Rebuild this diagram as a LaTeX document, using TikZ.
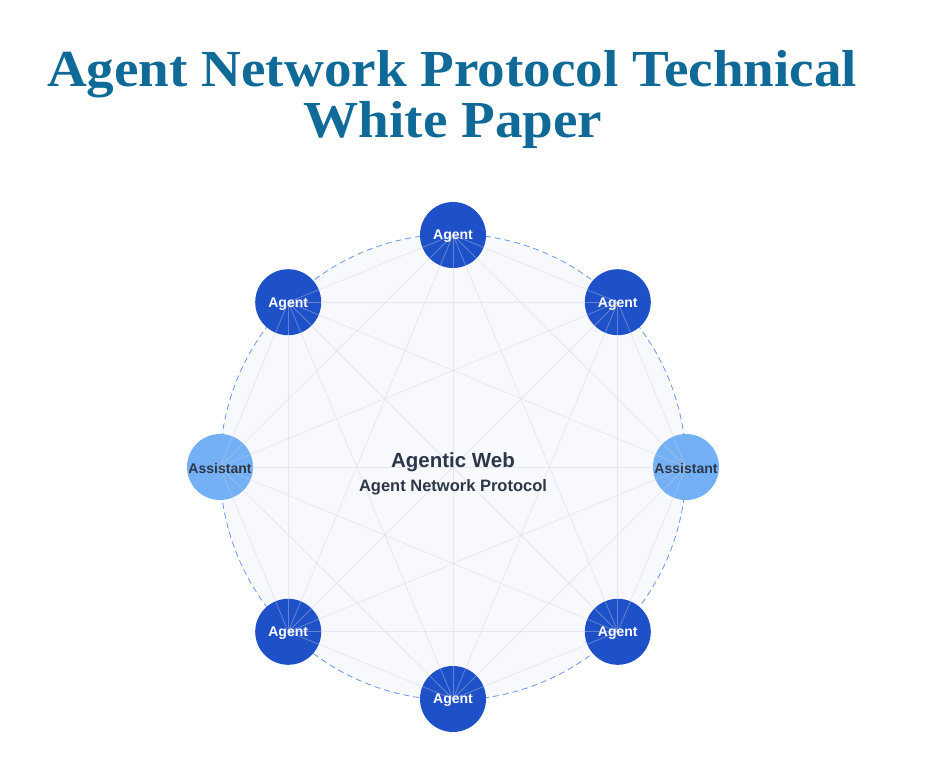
\documentclass[tikz,border=0pt]{standalone}
\usepackage{fontspec}
\setmainfont{Liberation Serif}
\setsansfont{Liberation Sans}
\usepackage{xcolor}
\usetikzlibrary{arrows.meta, positioning}
\usetikzlibrary{calc}

\definecolor{titleblue}{RGB}{15,106,152}
\definecolor{agentblue}{RGB}{30,80,200}
\definecolor{assistblue}{RGB}{116,176,246}
\definecolor{ringblue}{RGB}{104,152,236}
\definecolor{discfill}{RGB}{247,249,253}
\definecolor{edgegray}{RGB}{205,208,218}
\definecolor{darktext}{RGB}{45,55,72}

\tikzset{
  agent/.style={circle, fill=agentblue, minimum size=66pt, inner sep=0pt},
  assistant/.style={circle, fill=assistblue, minimum size=66pt, inner sep=0pt},
  edge/.style={draw=edgegray, line width=0.8pt, draw opacity=0.4},
  lbl/.style={font=\sffamily\bfseries\fontsize{14}{16}\selectfont, yshift=-1.5pt},
  title/.style={font=\bfseries\fontsize{52}{56}\selectfont, text=titleblue, anchor=base}
}

\begin{document}
\begin{tikzpicture}[x=1pt, y=-1pt]
\useasboundingbox (0,0) rectangle (931,760);
% title
\node[title] (t1) at (452,86) {\scalebox{1.06}[1]{Agent Network Protocol Technical}};
\node[title] (t2) at (453,137) {\scalebox{1.06}[1]{White Paper}};
% ring
\draw[ringblue, fill=discfill, line width=0.8pt, dash pattern=on 6pt off 4pt] (453,467) circle (233);
% nodes
\node[agent] (a) at (453,235) {};
\node[agent] (b) at (617.8,302.2) {};
\node[assistant] (c) at (686,467) {};
\node[agent] (d) at (617.8,631.8) {};
\node[agent] (e) at (453,699) {};
\node[agent] (f) at (288.2,631.8) {};
\node[assistant] (g) at (220,467) {};
\node[agent] (h) at (288.2,302.2) {};
% links
\draw[edge] (a.center) -- (b.center) -- (c.center) -- (d.center) -- (e.center) -- (f.center) -- (g.center) -- (h.center) -- (a.center);
\draw[edge] (a.center) -- (c.center) -- (e.center) -- (g.center) -- (a.center);
\draw[edge] (b.center) -- (d.center) -- (f.center) -- (h.center) -- (b.center);
\draw[edge] (a.center) -- (d.center) -- (g.center) -- (b.center) -- (e.center) -- (h.center) -- (c.center) -- (f.center) -- (a.center);
\draw[edge] (a.center) -- (e.center);
\draw[edge] (b.center) -- (f.center);
\draw[edge] (c.center) -- (g.center);
\draw[edge] (d.center) -- (h.center);
% labels
\node[lbl, text=white] at (a) {Agent};
\node[lbl, text=white] at (b) {Agent};
\node[lbl, text=darktext] at (c) {Assistant};
\node[lbl, text=white] at (d) {Agent};
\node[lbl, text=white] at (e) {Agent};
\node[lbl, text=white] at (f) {Agent};
\node[lbl, text=darktext] at (g) {Assistant};
\node[lbl, text=white] at (h) {Agent};
\node[font=\sffamily\bfseries\fontsize{20.5}{24}\selectfont, text=darktext] (web) at (453,462) {Agentic Web};
\node[font=\sffamily\bfseries\fontsize{16.5}{19}\selectfont, text=darktext] (anp) at (453,487) {Agent Network Protocol};
\end{tikzpicture}
\end{document}
